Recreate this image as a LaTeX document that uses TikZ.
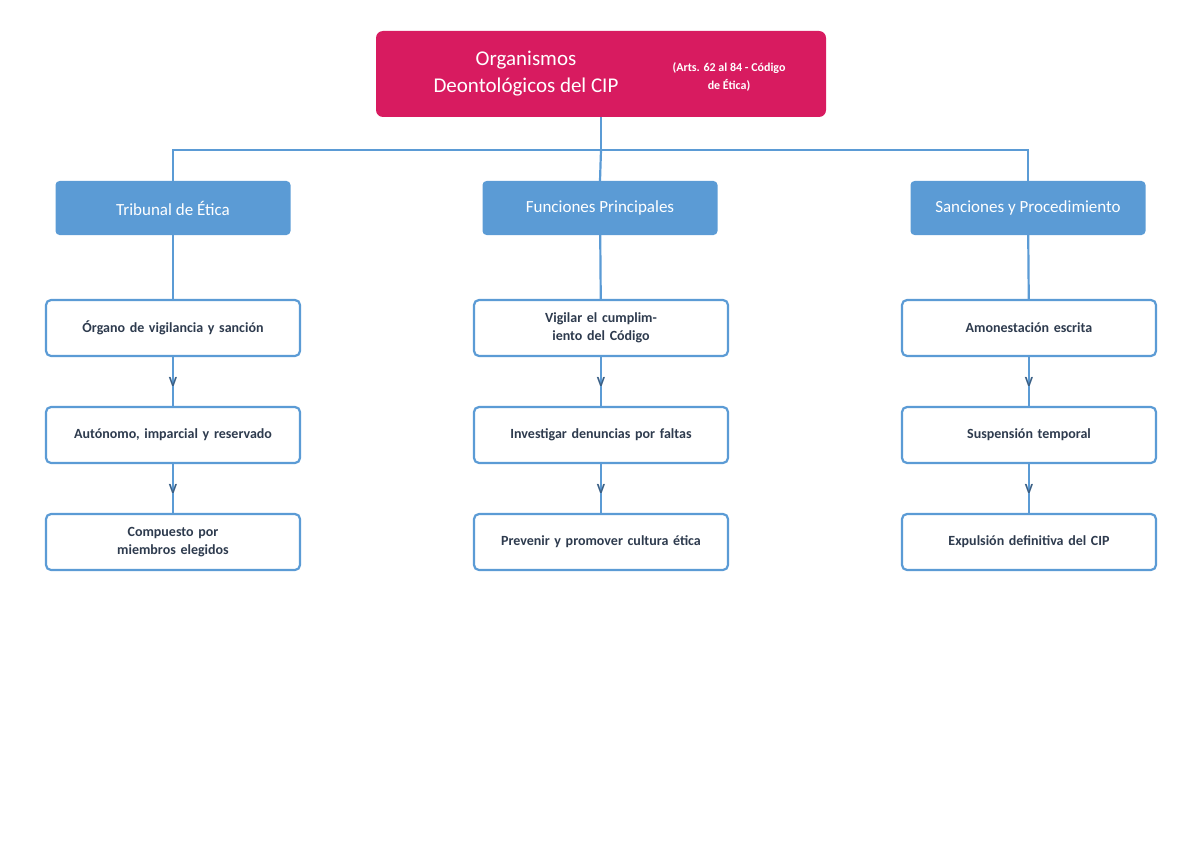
\documentclass[tikz,border=0pt]{standalone}
\usepackage{fontspec}
\setmainfont{Carlito}
\definecolor{titlered}{HTML}{D81B60}
\definecolor{headblue}{HTML}{5B9BD5}
\definecolor{textdark}{HTML}{2E3B4E}
\definecolor{vmark}{HTML}{3A5F85}
\tikzset{
  title/.style={draw=none, fill=titlered, rounded corners=7pt, minimum width=450pt, minimum height=86pt},
  head/.style={fill=headblue, rounded corners=4pt, minimum width=235pt, minimum height=54pt, text=white, font=\fontsize{17}{20}\selectfont},
  item/.style={draw=headblue, line width=2.2pt, fill=white, rounded corners=5pt, minimum width=254pt, minimum height=56pt, text=textdark, align=center, text width=200pt, font=\bfseries\fontsize{14}{18}\selectfont},
  link/.style={draw=headblue, line width=2.2pt},
  vsign/.style={text=vmark, font=\bfseries\fontsize{14}{14}\selectfont, inner sep=0pt}
}
\begin{document}
\begin{tikzpicture}[x=1pt, y=-1pt]
    \useasboundingbox (0,0) rectangle (1200,848);

    \node[title] (top) at (601,74) {};
    \node[text=white, align=center, font=\fontsize{21}{27}\selectfont] (toptxt) at (526,74) {Organismos\\Deontológicos del CIP};
    \node[text=white, align=center, font=\bfseries\fontsize{12}{18}\selectfont] (topnote) at (729,77) {(Arts. 62 al 84 - Código\\de Ética)};

    \node[head] (tribunal)  at (173,208)  {Tribunal de Ética};
    \node[head] (funciones) at (600,208)  {Funciones Principales};
    \node[head] (sanciones) at (1028,208) {Sanciones y Procedimiento};

    \coordinate (bus) at (601,150);
    \draw[link] (top.south) -- (bus);
    \draw[link] (tribunal.north) |- (bus) -| (sanciones.north);
    \draw[link] (bus) -- (funciones.north);

    \node[item] (t1) at (173,328) {Órgano de vigilancia y sanción};
    \node[item] (t2) at (173,435) {Autónomo, imparcial y reservado};
    \node[item] (t3) at (173,542) {Compuesto por miembros elegidos};

    \node[item] (f1) at (601,328) {Vigilar el cumplimiento del Código};
    \node[item] (f2) at (601,435) {Investigar denuncias por faltas};
    \node[item] (f3) at (601,542) {Prevenir y promover cultura ética};

    \node[item] (s1) at (1029,328) {Amonestación escrita};
    \node[item] (s2) at (1029,435) {Suspensión temporal};
    \node[item] (s3) at (1029,542) {Expulsión definitiva del CIP};

    \draw[link] (tribunal) -- (t1);
    \draw[link] (funciones) -- (f1);
    \draw[link] (sanciones) -- (s1);

    \foreach \c in {t,f,s} {
        \draw[link] (\c1) -- node[vsign] {V} (\c2);
        \draw[link] (\c2) -- node[vsign] {V} (\c3);
    }
\end{tikzpicture}
\end{document}
